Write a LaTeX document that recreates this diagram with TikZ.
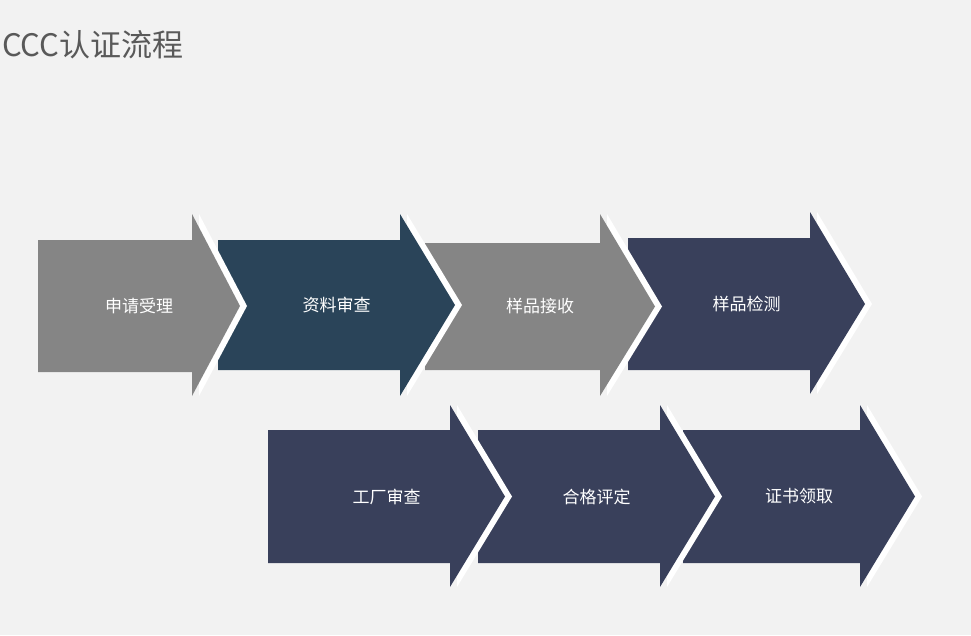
\documentclass[tikz,border=0pt]{standalone}
\usepackage{fontspec}
\setmainfont{Noto Sans CJK SC}
\definecolor{bg}{HTML}{F2F2F2}
\definecolor{cg}{HTML}{858585}
\definecolor{cb}{HTML}{2A4459}
\definecolor{cn}{HTML}{39405B}
\newcommand{\myarr}[9]{%
  \fill[white] ($(#1,#4)+(7,0)$) -- ($(#2,#4)+(7,0)$) -- ($(#2,#6)+(7,0)$) -- ($(#3,{(#4+#5)/2})+(7,0)$) -- ($(#2,#7)+(7,0)$) -- ($(#2,#5)+(7,0)$) -- ($(#1,#5)+(7,0)$) -- cycle;
  \fill[#8] (#1,#4) -- (#2,#4) -- (#2,#6) -- (#3,{(#4+#5)/2}) -- (#2,#7) -- (#2,#5) -- (#1,#5) -- cycle;
  \node[lbl] at ({(#1+#3)/2},{(#4+#5)/2}) {#9};}
\usetikzlibrary{calc}
\begin{document}
\begin{tikzpicture}[x=1pt,y=-1pt,lbl/.style={text=white,font=\fontsize{17}{20}\selectfont}]
\fill[bg] (0,0) rectangle (971,635);
\node[anchor=west,text=black!65,font=\fontsize{31}{36}\selectfont,inner sep=0] (title) at (2,45) {CCC认证流程};
\myarr{628}{810}{865}{238}{370}{212}{394}{cn}{样品检测}
\myarr{425}{600}{655}{243}{370}{214}{396}{cg}{样品接收}
\myarr{218}{400}{455}{240}{370}{214}{396}{cb}{资料审查}
\myarr{38}{192}{240}{240}{372}{214}{396}{cg}{申请受理}
\myarr{683}{860}{915}{430}{563}{405}{587}{cn}{证书领取}
\myarr{478}{660}{715}{430}{563}{405}{587}{cn}{合格评定}
\myarr{268}{450}{505}{430}{563}{405}{587}{cn}{工厂审查}
\end{tikzpicture}
\end{document}
